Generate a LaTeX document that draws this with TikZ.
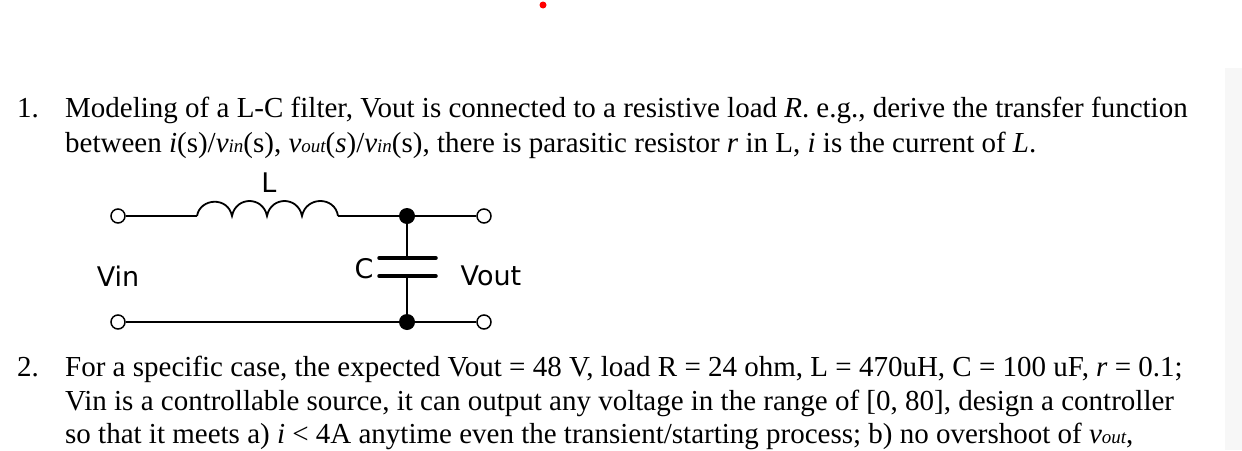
\documentclass[tikz,border=0pt]{standalone}
\usepackage{fontspec}
\setmainfont{Liberation Serif}
\newfontfamily\circfont{DejaVu Sans}
\begin{document}
\begin{tikzpicture}[x=1pt,y=-1pt,
  txt/.style={anchor=base west,inner sep=0pt,font=\fontsize{29}{34}\selectfont},
  clab/.style={inner sep=0pt,font=\circfont\fontsize{27}{30}\selectfont},
  wire/.style={line width=1.8pt},
  term/.style={circle,draw,line width=1.5pt,minimum size=14pt,inner sep=0pt,fill=white},
  junc/.style={circle,fill=black,minimum size=16pt,inner sep=0pt}]
\useasboundingbox (0,0) rectangle (1242,450);
\fill[black!3] (1225,68) rectangle (1242,450);
\fill[red] (543,5) circle (3.5);
\newcommand{\vi}[1]{{\itshape v}{\itshape\fontsize{19}{22}\selectfont #1}}
\node[txt] (n1) at (17,117) {1.};
\node[txt] (l1) at (65,117) {Modeling of a L-C filter, Vout is connected to a resistive load \textit{R}. e.g., derive the transfer function};
\node[txt] (l2) at (65,152) {between \textit{i}(s)/\vi{in}(s), \vi{out}(\textit{s})/\vi{in}(s), there is parasitic resistor \textit{r} in L, \textit{i} is the current of \textit{L}.};
\node[txt] (n2) at (17,376) {2.};
\node[txt] (l3) at (65,376) {For a specific case, the expected Vout = 48 V, load R = 24 ohm, L = 470uH, C = 100 uF, \textit{r} = 0.1;};
\node[txt] (l4) at (65,410) {Vin is a controllable source, it can output any voltage in the range of [0, 80], design a controller};
\node[txt] (l5) at (65,443) {so that it meets a) \textit{i} < 4A anytime even the transient/starting process; b) no overshoot of \vi{out},};
% circuit
\node[term] (t1) at (118,216) {};
\node[term] (t2) at (118,322) {};
\node[term] (t3) at (484,216) {};
\node[term] (t4) at (484,322) {};
\node[junc] (j1) at (407,216) {};
\node[junc] (j2) at (407,322) {};
\coordinate (la) at (197,216);
\coordinate (lb) at (338,216);
\coordinate (c1) at (407,258);
\coordinate (c2) at (407,276);
\draw[wire] (t1) -- (la);
\draw[wire] (la) .. controls (200,198) and (228,196) .. (232,216)
  .. controls (236,196) and (263,196) .. (267,216)
  .. controls (271,196) and (298,196) .. (302,216)
  .. controls (306,196) and (335,196) .. (lb);
\draw[wire] (lb) -- (j1) -- (t3);
\draw[wire] (t2) -- (j2) -- (t4);
\draw[wire] (j1) -- (c1);
\draw[wire] (j2) -- (c2);
\draw[line width=3.5pt,line cap=round] (379,258) -- (436,258);
\draw[line width=3.5pt,line cap=round] (379,276) -- (436,276);
\node[clab] (L) at (269,183) {L};
\node[clab] (C) at (364,269) {C};
\node[clab] (vin) at (118,276) {Vin};
\node[clab] (vout) at (491,276) {Vout};
\end{tikzpicture}
\end{document}
